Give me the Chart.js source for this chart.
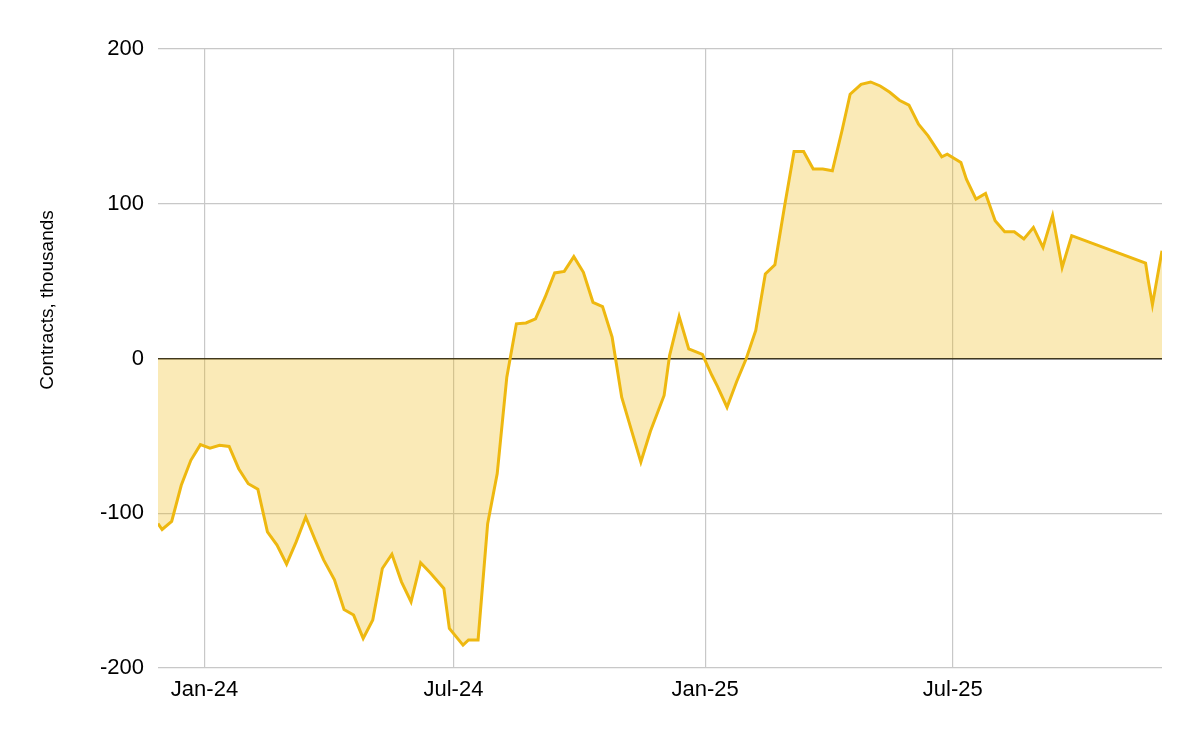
<!DOCTYPE html>
<html>
<head>
<meta charset="utf-8">
<script src="https://cdn.jsdelivr.net/npm/chart.js@4.4.1/dist/chart.umd.min.js"></script>
<style>
  html, body { margin: 0; padding: 0; background: #fff; }
  #wrap { width: 1200px; height: 742px; }
</style>
</head>
<body>
<div id="wrap"><canvas id="chart" width="1200" height="742"></canvas></div>
<script>
"use strict";

// report dates and net positions (thousands of contracts)
var dates = [
  '2023-11-28', '2023-12-01', '2023-12-08', '2023-12-15', '2023-12-22', '2023-12-29',
  '2024-01-05', '2024-01-12', '2024-01-19', '2024-01-26', '2024-02-02', '2024-02-09',
  '2024-02-16', '2024-02-23', '2024-03-01', '2024-03-08', '2024-03-15', '2024-03-22',
  '2024-03-28', '2024-04-05', '2024-04-12', '2024-04-19', '2024-04-26', '2024-05-03',
  '2024-05-10', '2024-05-17', '2024-05-24', '2024-05-31', '2024-06-07', '2024-06-14',
  '2024-06-21', '2024-06-24', '2024-06-28', '2024-07-08', '2024-07-12', '2024-07-19',
  '2024-07-26', '2024-08-02', '2024-08-09', '2024-08-16', '2024-08-23', '2024-08-30',
  '2024-09-06', '2024-09-13', '2024-09-20', '2024-09-27', '2024-10-04', '2024-10-11',
  '2024-10-18', '2024-10-25', '2024-11-01', '2024-11-08', '2024-11-15', '2024-11-22',
  '2024-12-02', '2024-12-06', '2024-12-13', '2024-12-20', '2024-12-30', '2025-01-06',
  '2025-01-10', '2025-01-17', '2025-01-24', '2025-01-31', '2025-02-07', '2025-02-14',
  '2025-02-21', '2025-02-28', '2025-03-07', '2025-03-14', '2025-03-21', '2025-03-28',
  '2025-04-04', '2025-04-11', '2025-04-17', '2025-04-25', '2025-05-02', '2025-05-09',
  '2025-05-16', '2025-05-23', '2025-05-30', '2025-06-06', '2025-06-13', '2025-06-23',
  '2025-06-27', '2025-07-07', '2025-07-11', '2025-07-18', '2025-07-25', '2025-08-01',
  '2025-08-08', '2025-08-15', '2025-08-22', '2025-08-29', '2025-09-05', '2025-09-12',
  '2025-09-19', '2025-09-26', '2025-11-19', '2025-11-21', '2025-11-24', '2025-12-01'
];

var netPositions = [
  -106.7, -110.5, -105.2, -81.9, -65.8, -55.7,
  -57.9, -56.1, -56.8, -71.2, -80.9, -84.5,
  -112.0, -120.6, -132.9, -118.5, -102.4, -117.5,
  -130.0, -143.0, -162.2, -165.8, -180.9, -169.0,
  -135.7, -126.5, -144.3, -157.2, -132.0, -138.5,
  -145.5, -148.6, -174.4, -185.2, -181.9, -181.9,
  -106.7, -74.4, -12.1, 22.4, 23.0, 25.6,
  39.6, 55.3, 56.3, 65.8, 55.7, 36.3,
  33.5, 13.8, -25.0, -46.0, -66.9, -47.0,
  -23.9, 1.9, 27.1, 6.2, 2.6, -11.0,
  -18.0, -31.5, -15.0, -0.2, 18.1, 54.6,
  60.6, 98.0, 133.8, 133.8, 122.4, 122.4,
  121.3, 147.0, 170.8, 177.2, 178.7, 176.1,
  172.0, 166.9, 163.7, 151.4, 143.9, 130.3,
  132.0, 126.6, 115.9, 103.0, 106.6, 89.0,
  81.9, 81.9, 77.2, 84.7, 71.8, 92.3,
  58.9, 79.4, 61.7, 50.0, 34.8, 69.7
];

var tickDates = ['2024-01-01', '2024-07-01', '2025-01-01', '2025-07-01'];
var tickLabels = ['Jan-24', 'Jul-24', 'Jan-25', 'Jul-25'];
var yTicks = [-200, -100, 0, 100, 200];

var FONT = '"Liberation Sans", Arial, Helvetica, sans-serif';

function dayNum(s) {
  return (Date.parse(s) - Date.parse('2024-01-01')) / 86400000;
}

var points = [];
for (var i = 0; i < dates.length; i++) {
  points.push({ x: dayNum(dates[i]), y: netPositions[i] });
}

// rotated axis title, sits a bit above the middle like the original
var axisTitle = {
  id: 'axisTitle',
  afterDraw: function(chart) {
    var ctx = chart.ctx;
    ctx.save();
    ctx.translate(48, 300);
    ctx.rotate(-Math.PI / 2);
    ctx.font = '19px ' + FONT;
    ctx.fillStyle = '#000';
    ctx.textAlign = 'center';
    ctx.textBaseline = 'middle';
    ctx.fillText('Contracts, thousands', 0, 0);
    ctx.restore();
  }
};

new Chart(document.getElementById('chart'), {
  type: 'line',
  data: {
    datasets: [{
      data: points,
      borderColor: '#EEB810',
      backgroundColor: 'rgba(238, 184, 16, 0.3)',
      borderWidth: 3,
      pointRadius: 0,
      tension: 0,
      fill: 'origin'
    }]
  },
  options: {
    responsive: false,
    animation: false,
    devicePixelRatio: 1,
    layout: { padding: { top: 49, right: 38, bottom: 0, left: 0 } },
    plugins: {
      legend: { display: false },
      tooltip: { enabled: false }
    },
    scales: {
      x: {
        type: 'linear',
        min: dayNum('2023-11-28'),
        max: dayNum('2025-12-01'),
        afterBuildTicks: function(scale) {
          scale.ticks = tickDates.map(function(d) { return { value: dayNum(d) }; });
        },
        afterFit: function(scale) { scale.height = 74; },
        border: { display: false },
        grid: { color: '#c8c8c8', lineWidth: 1.2, drawTicks: false },
        ticks: {
          autoSkip: false,
          maxRotation: 0,
          padding: 9,
          color: '#000',
          font: { family: FONT, size: 22 },
          callback: function(value, index) { return tickLabels[index]; }
        }
      },
      y: {
        min: -200,
        max: 200,
        afterBuildTicks: function(scale) {
          scale.ticks = yTicks.map(function(v) { return { value: v }; });
        },
        afterFit: function(scale) { scale.width = 158; },
        border: { display: false },
        grid: {
          drawTicks: false,
          color: function(c) { return c.tick && c.tick.value === 0 ? '#222222' : '#c8c8c8'; },
          lineWidth: function(c) { return c.tick && c.tick.value === 0 ? 1.5 : 1.2; }
        },
        ticks: {
          padding: 14,
          color: '#000',
          font: { family: FONT, size: 22 }
        }
      }
    }
  },
  plugins: [axisTitle]
});
</script>
</body>
</html>
